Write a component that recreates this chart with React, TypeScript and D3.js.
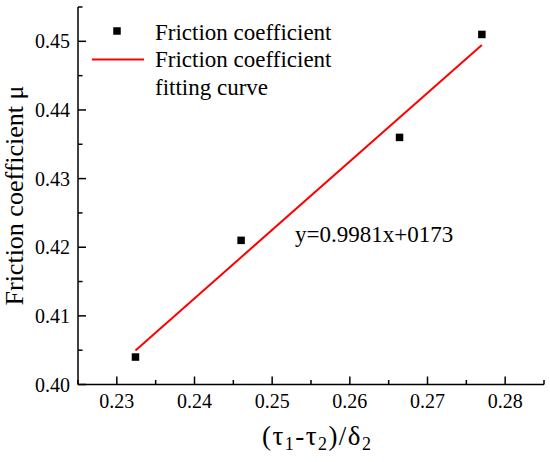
import React from "react";
import * as d3 from "d3";

const xValues = [0.2324, 0.246, 0.2664, 0.277];
const yValues = [0.404, 0.421, 0.436, 0.451];
const fitSlope = 0.9981;
const fitIntercept = 0.173;
const fitRange = [0.2324, 0.277];
const xTicks = [0.23, 0.24, 0.25, 0.26, 0.27, 0.28];
const yTicks = [0.4, 0.41, 0.42, 0.43, 0.44, 0.45];
const xMinor = [0.225, 0.235, 0.245, 0.255, 0.265, 0.275, 0.285];
const yMinor = [0.405, 0.415, 0.425, 0.435, 0.445, 0.455];
const legendLabels = ["Friction coefficient", "Friction coefficient", "fitting curve"];
const equationText = "y=0.9981x+0173";

const W = 550;
const H = 462;
const FONT = "Liberation Serif, Times New Roman, serif";
const ts = { fontFamily: FONT };

export default function App() {
  const left = 78;
  const right = 544;
  const top = 7;
  const bottom = 384.5;
  const x = d3.scaleLinear().domain([0.225, 0.285]).range([left, right]);
  const y = d3.scaleLinear().domain([0.4, 0.455]).range([bottom, top]);
  const line = d3
    .line<number>()
    .x((d) => x(d))
    .y((d) => y(fitSlope * d + fitIntercept));
  const sq = 7.5;
  return (
    <svg
      width={W}
      height={H}
      style={{ position: "absolute", left: 0, top: 0, background: "#fff", fontFamily: FONT }}
    >
      <rect width={W} height={H} fill="#fff" />
      <line x1={left} x2={left} y1={top} y2={bottom} stroke="#000" strokeWidth={1.5} />
      <line x1={left} x2={right} y1={bottom} y2={bottom} stroke="#000" strokeWidth={1.5} />
      {yTicks.map((t) => (
        <g key={"yt" + t}>
          <line x1={left} x2={left + 8} y1={y(t)} y2={y(t)} stroke="#000" strokeWidth={1.5} />
          <text x={left - 8} y={y(t) + 7} textAnchor="end" fontSize={20} style={ts}>
            {t.toFixed(2)}
          </text>
        </g>
      ))}
      {yMinor.map((t) => (
        <line key={"ym" + t} x1={left} x2={left + 4.5} y1={y(t)} y2={y(t)} stroke="#000" strokeWidth={1.5} />
      ))}
      {xTicks.map((t) => (
        <g key={"xt" + t}>
          <line x1={x(t)} x2={x(t)} y1={bottom} y2={bottom - 8} stroke="#000" strokeWidth={1.5} />
          <text x={x(t)} y={408} textAnchor="middle" fontSize={20} style={ts}>
            {t.toFixed(2)}
          </text>
        </g>
      ))}
      {xMinor.map((t) => (
        <line key={"xm" + t} x1={x(t)} x2={x(t)} y1={bottom} y2={bottom - 4.5} stroke="#000" strokeWidth={1.5} />
      ))}
      <path d={line(fitRange) || ""} fill="none" stroke="#ff0000" strokeWidth={2} />
      {xValues.map((xv, i) => (
        <rect
          key={"p" + i}
          x={x(xv) - sq / 2}
          y={y(yValues[i]) - sq / 2}
          width={sq}
          height={sq}
          fill="#000"
        />
      ))}
      <text x={295} y={242} fontSize={23} style={ts}>
        {equationText}
      </text>
      <rect x={117 - sq / 2} y={31 - sq / 2} width={sq} height={sq} fill="#000" />
      <line x1={92} x2={144} y1={59.5} y2={59.5} stroke="#ff0000" strokeWidth={2} />
      <text x={155} y={39.5} fontSize={23} style={ts}>
        {legendLabels[0]}
      </text>
      <text x={155} y={67} fontSize={23} style={ts}>
        {legendLabels[1]}
      </text>
      <text x={155} y={95} fontSize={23} style={ts}>
        {legendLabels[2]}
      </text>
      <text
        transform={`translate(23,${195.5}) rotate(-90)`}
        textAnchor="middle"
        fontSize={26}
        style={ts}
      >
        Friction coefficient μ
      </text>
      <text x={262} y={445} fontSize={27} style={ts} textLength={109} lengthAdjust="spacing">
        (τ<tspan fontSize={18} dy={5}>1</tspan>
        <tspan dy={-5}>-τ</tspan>
        <tspan fontSize={18} dy={5}>2</tspan>
        <tspan dy={-5}>)/δ</tspan>
        <tspan fontSize={18} dy={5}>2</tspan>
      </text>
    </svg>
  );
}
